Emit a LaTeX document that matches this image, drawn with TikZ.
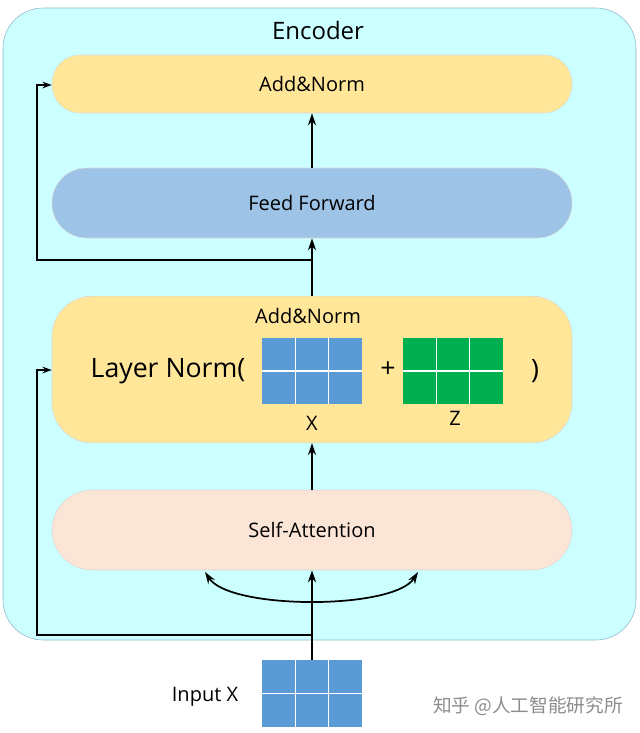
\documentclass[tikz,border=0pt]{standalone}
\usepackage{fontspec}
\setmainfont{Open Sans}
\newfontfamily\cjk{Noto Sans CJK SC}
\usetikzlibrary{positioning,arrows.meta}
\definecolor{encfill}{HTML}{CCFFFF}
\definecolor{encline}{HTML}{8EB4C8}
\definecolor{normfill}{HTML}{FFE699}
\definecolor{ffnfill}{HTML}{9DC3E6}
\definecolor{attfill}{HTML}{FBE5D6}
\definecolor{xblue}{HTML}{5B9BD5}
\definecolor{zgreen}{HTML}{00B050}
\begin{document}
\begin{tikzpicture}[
    x=0.75pt, y=-0.75pt,
    block/.style={
        draw=black!15,
        minimum width=390pt,
        rounded corners=21pt,
        font=\fontsize{15}{18}\selectfont,
        align=center,
    },
    mat/.style={
        minimum width=75pt,
        minimum height=50pt,
        inner sep=0pt,
    },
    lbl/.style={font=\fontsize{15}{18}\selectfont},
    big/.style={font=\fontsize{20}{24}\selectfont},
    link/.style={-{Stealth[length=9pt,width=6pt]}, line width=1.6pt},
    wire/.style={line width=1.3pt},
]
\useasboundingbox (0,0) rectangle (640,733);

\node[draw=encline, fill=encfill, rounded corners=30pt, minimum width=474.75pt,
      minimum height=474pt, inner sep=0pt] (enc) at (319.5,324) {};
\node[font=\fontsize{18}{22}\selectfont] (title) at (318,30) {Encoder};

\node[block, fill=normfill, minimum height=43.5pt] (N2) at (312,84) {Add\&Norm};
\node[block, fill=ffnfill, minimum height=52.5pt, rounded corners=26pt] (FF) at (312,203) {Feed Forward};
\node[block, fill=normfill, minimum height=110pt, rounded corners=30pt] (N1) at (312,369.5) {};
\node[block, fill=attfill, minimum height=60pt, rounded corners=30pt] (SA) at (312,530) {Self-Attention};

\node[lbl] (N1lbl) at (308,316) {Add\&Norm};
\node[big] (LN) at (168,371) {Layer Norm(};
\node[mat, fill=xblue] (X) at (312,371) {};
\node[mat, fill=zgreen] (Z) at (453,371) {};
\node[mat, fill=xblue] (in) at (312,693.5) {};
\foreach \m in {X,Z,in} {
    \draw[white, line width=0.8pt] (\m.north west) ++(33.3,0) -- ++(0,67);
    \draw[white, line width=0.8pt] (\m.north west) ++(66.7,0) -- ++(0,67);
    \draw[white, line width=0.8pt] (\m.west) -- (\m.east);
}
\node[lbl] (Xlbl) at (312,423) {X};
\node[big] (plus) at (388,370) {+};
\node[lbl] (Zlbl) at (455,418) {Z};
\node[big] (close) at (535,371) {)};
\node[lbl] (inlbl) at (205,697) {Input X};
\node[font=\cjk\fontsize{14}{17}\selectfont, text=black!45] (mark) at (528,706) {知乎 @人工智能研究所};

% connectors
\coordinate (r1) at (312,635);
\coordinate (r2) at (312,260);
\coordinate (sl) at (205,572);
\coordinate (sr) at (418,572);
\draw[link] (in.north) -- (SA.south);
\draw[wire, {Stealth[length=9pt,width=6pt]}-{Stealth[length=9pt,width=6pt]}]
    (sl) .. controls (230,610) and (394,610) .. (sr);
\draw[wire, -{Stealth[length=7pt,width=5pt]}] (r1) -| (37,370) -- (N1.west |- 0,370);
\draw[link] (SA.north) -- (N1.south);
\draw[link] (N1.north) -- (FF.south);
\draw[wire, -{Stealth[length=7pt,width=5pt]}] (r2) -| (37,85) -- (N2.west |- 0,85);
\draw[link] (FF.north) -- (N2.south);
\end{tikzpicture}
\end{document}
